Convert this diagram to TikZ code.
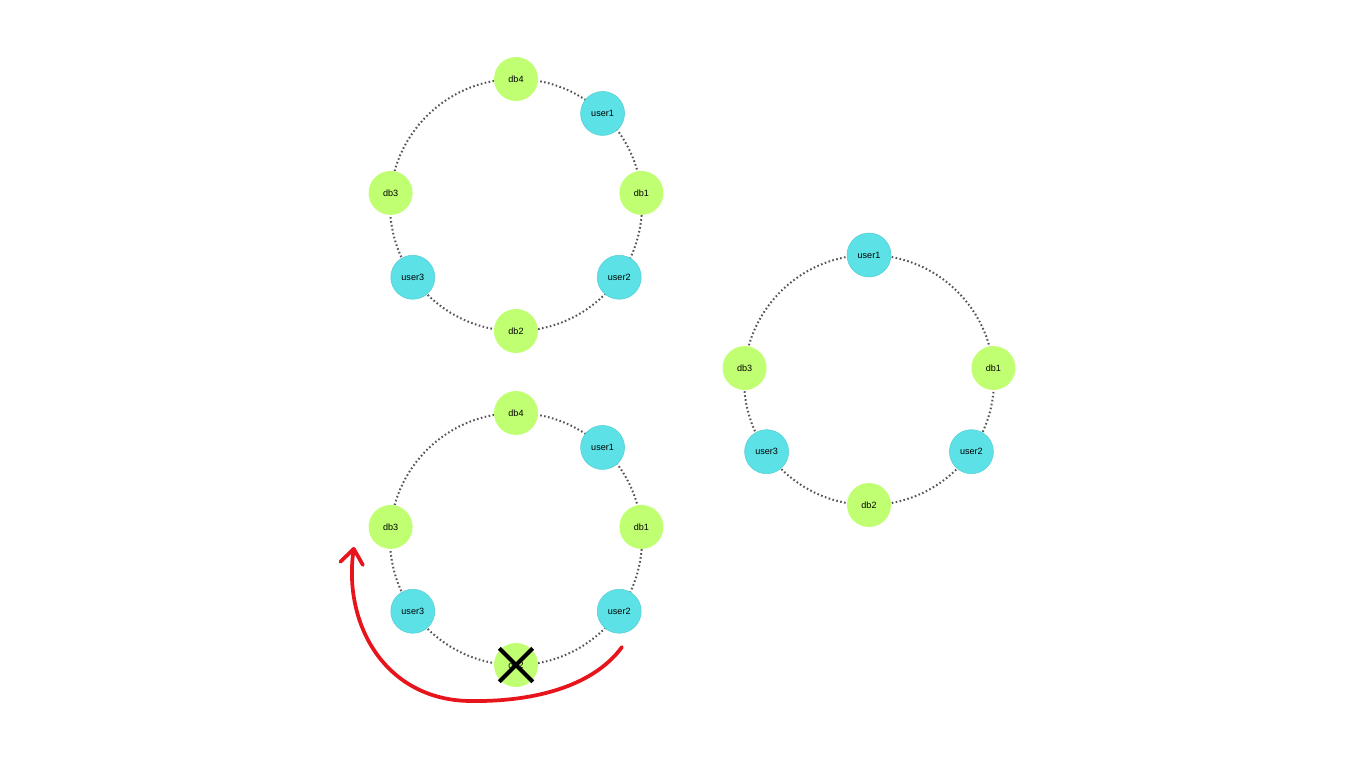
\documentclass[tikz,border=0pt]{standalone}
\usepackage{fontspec}
\setmainfont{Liberation Sans}
\usepackage{tikz}
\usetikzlibrary{arrows.meta}
\usepackage{xcolor}
\definecolor{dbgreen}{HTML}{C1FF72}
\definecolor{usercyan}{HTML}{5CE1E6}
\definecolor{ringgray}{HTML}{555555}
\definecolor{markred}{HTML}{E8141B}

\begin{document}
\begin{tikzpicture}[x=0.75pt,y=0.75pt,
	  every node/.style={align=center,text=black,font=\fontsize{6.8}{7}\selectfont},
	  db/.style={circle,fill=dbgreen,minimum size=33pt,inner sep=0pt},
	  user/.style={circle,fill=usercyan,draw=usercyan!92!black,line width=0.4pt,minimum size=33pt,inner sep=0pt},
	  ring/.style={draw=ringgray,line width=1.5pt,dash pattern=on 1.2pt off 1.8pt},
	  cross/.style={draw=black,line width=3pt},
	  back/.style={->,>={Straight Barb[length=11pt,width=17pt,round]},draw=markred,line width=2.8pt,line cap=round}]

	  \useasboundingbox (0,0) rectangle (1358,764);

	  % Top ring
	  \begin{scope}[shift={(516,559)}]
	    \draw[ring] (0,0) circle[radius=126];
	    \node[db] (topdbd) at (90:126) {db4};
	    \node[user] (topusera) at (46.6:126) {user1};
	    \node[db] (topdba) at (5.5:126) {db1};
	    \node[user] (topuserb) at (-35:126) {user2};
	    \node[db] (topdbb) at (-90:126) {db2};
	    \node[user] (topuserc) at (215:126) {user3};
	    \node[db] (topdbc) at (174.5:126) {db3};
	  \end{scope}

	  % Bottom ring, db2 goes down
	  \begin{scope}[shift={(516,225)}]
	    \draw[ring] (0,0) circle[radius=126];
	    \node[db] (lowdbd) at (90:126) {db4};
	    \node[user] (lowusera) at (46.6:126) {user1};
	    \node[db] (lowdba) at (5.5:126) {db1};
	    \node[user] (lowuserb) at (-35:126) {user2};
	    \node[db] (lowdbb) at (-90:126) {db2};
	    \node[user] (lowuserc) at (215:126) {user3};
	    \node[db] (lowdbc) at (174.5:126) {db3};
	  \end{scope}
	  \draw[cross] ([shift={(-1,1)}]lowdbb.north west) -- ([shift={(1,-1)}]lowdbb.south east);
	  \draw[cross] ([shift={(-1,-1)}]lowdbb.south west) -- ([shift={(1,1)}]lowdbb.north east);

	  \coordinate (backstart) at (622,117);
	  \coordinate (backlow) at (470,63);
	  \coordinate (backend) at (354,217);
	  \draw[back] (backstart) .. controls (592,76) and (530,62) .. (backlow)
	    .. controls (385,64) and (343,140) .. (backend);

	  % Right ring
	  \begin{scope}[shift={(869,384)}]
	    \draw[ring] (0,0) circle[radius=125];
	    \node[user] (rightusera) at (90:125) {user1};
	    \node[db] (rightdba) at (5.5:125) {db1};
	    \node[user] (rightuserb) at (-35:125) {user2};
	    \node[db] (rightdbb) at (-90:125) {db2};
	    \node[user] (rightuserc) at (215:125) {user3};
	    \node[db] (rightdbc) at (174.5:125) {db3};
	  \end{scope}

\end{tikzpicture}
\end{document}
